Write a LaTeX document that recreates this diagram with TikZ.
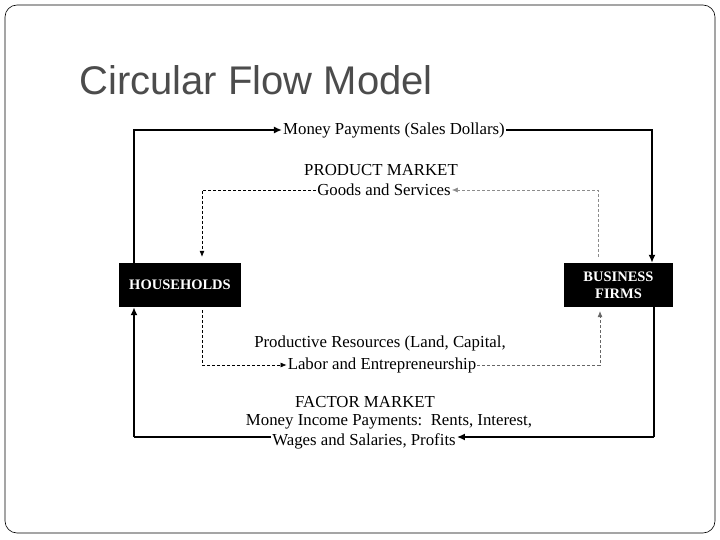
\documentclass[tikz,border=0pt]{standalone}
\usepackage{fontspec}
\usetikzlibrary{arrows.meta}
\setmainfont{Liberation Serif}
\newfontfamily\titlefont{Liberation Sans}
\begin{document}
\begin{tikzpicture}[x=1pt,y=-1pt,
  box/.style={fill=black,text=white,font=\bfseries\fontsize{14.5}{17}\selectfont,align=center,inner sep=0pt},
  lbl/.style={font=\fontsize{16.8}{19}\selectfont,inner sep=1pt,align=center},
  flowline/.style={line width=1.6pt,-{Latex[length=8pt,width=7pt]}},
  dashflow/.style={densely dashed,line width=0.6pt,-{Latex[length=6pt,width=5pt]}}]
\useasboundingbox (0,0) rectangle (720,540);
\draw[rounded corners=12pt,line width=0.6pt] (5,5) rectangle (715,533);
\node[anchor=west,text=black!70,font=\titlefont\fontsize{40}{46}\selectfont] (title) at (76,80) {Circular Flow Model};
\node[box,minimum width=122pt,minimum height=44pt] (hh) at (180,285) {HOUSEHOLDS};
\node[box,minimum width=109pt,minimum height=44pt] (bf) at (618.5,285) {BUSINESS\\FIRMS};
\node[lbl] (mp) at (394,130) {Money Payments (Sales Dollars)};
\node[lbl] (pm) at (381,170) {PRODUCT MARKET};
\node[lbl] (gs) at (384,190) {Goods and Services};
\node[lbl] (pr) at (380,343) {Productive Resources (Land, Capital,};
\node[lbl] (le) at (382,365) {Labor and Entrepreneurship};
\node[lbl] (fm) at (365,402) {FACTOR MARKET};
\node[lbl] (mi) at (389,422) {Money Income Payments:\ \ Rents, Interest,};
\node[lbl] (ws) at (364,441) {Wages and Salaries, Profits};
\draw[flowline] (hh.north -| 134,0) -- (134,130) -- (mp.west);
\draw[flowline] (mp.east) -- (652,130) -- (bf.north -| 652,0);
\draw[line width=1.6pt] (bf.south -| 654,0) -- (654,437) coordinate (c2);
\draw[flowline] (c2) -- (ws.east |- c2);
\draw[line width=1.6pt] (ws.west |- c2) -- (134,437) coordinate (c1);
\draw[flowline] (c1) -- (hh.south -| 134,0);
\draw[dashflow] (gs.west) -- (202,190) -- ([yshift=6pt]hh.north -| 202,0);
\draw[dashflow,black!45] ([yshift=6pt]bf.north -| 598,0) -- (598,190) -- (gs.east);
\draw[dashflow] ([yshift=-3pt]hh.south -| 202,0) -- (202,365) -- (le.west);
\draw[dashflow,black!60] (le.east) -- (600,365) -- ([yshift=-4pt]bf.south -| 600,0);
\end{tikzpicture}
\end{document}
